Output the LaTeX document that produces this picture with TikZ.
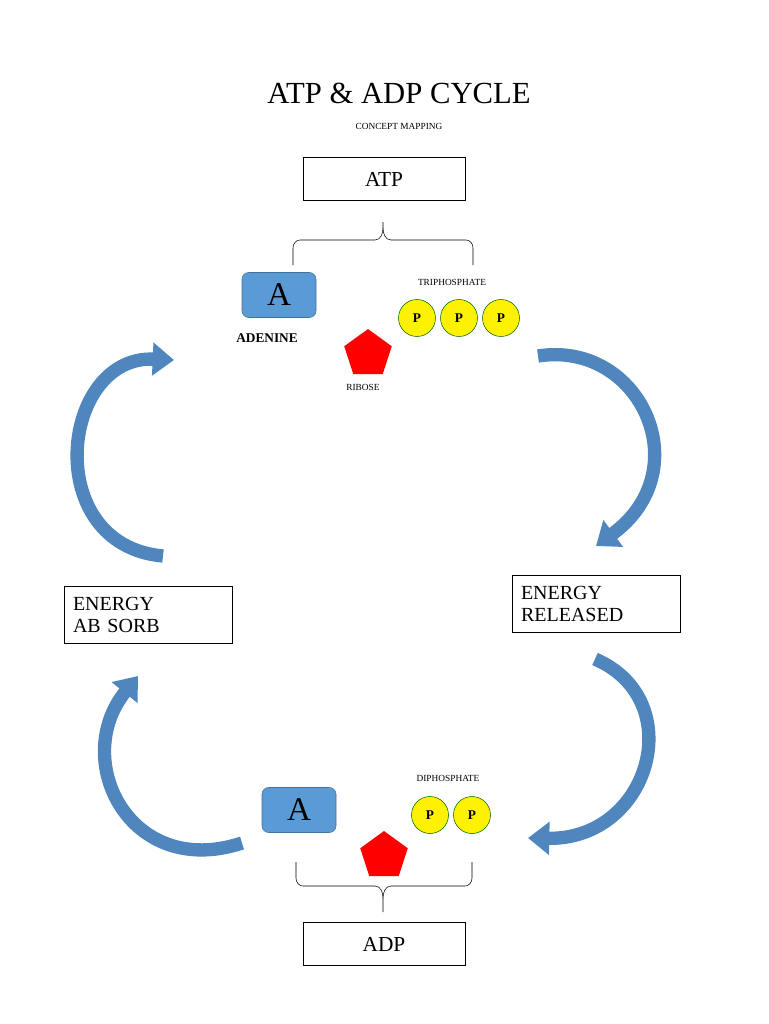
\documentclass[tikz,border=0pt]{standalone}
\usepackage{fontspec}
\setmainfont{Liberation Serif}
\usetikzlibrary{shapes.geometric,arrows.meta}
\definecolor{ablue}{HTML}{5B9BD5}
\definecolor{adark}{HTML}{41719C}
\definecolor{amid}{HTML}{4F86BE}
\begin{document}
\begin{tikzpicture}[x=0.75pt,y=-0.75pt,
 box/.style={draw,thin,minimum width=162*0.75pt,minimum height=43*0.75pt},
 ebox/.style={draw,thin,minimum width=168*0.75pt,minimum height=57*0.75pt,align=left,font=\fontsize{15}{17}\selectfont,text width=150*0.75pt},
 abox/.style={draw=adark,fill=ablue,rounded corners=5pt,minimum width=74*0.75pt,minimum height=45*0.75pt,font=\Huge},
 pc/.style={circle,draw=black!60!green,fill=yellow,minimum size=37*0.75pt,inner sep=0pt,font=\bfseries},
 pent/.style={regular polygon,regular polygon sides=5,fill=red,minimum size=50*0.75pt,inner sep=0pt},
 carrow/.style={draw=amid,line width=10pt,-{Triangle[length=16pt,width=24pt]}},
 small/.style={font=\scriptsize}]
\useasboundingbox (0,0) rectangle (768,1024);
\node (title) at (399,93) {\fontsize{23}{27}\selectfont ATP \& ADP CYCLE};
\node[small] (cm) at (399,126) {CONCEPT MAPPING};
\node[box,font=\fontsize{16}{18}\selectfont] (atp) at (384,179) {ATP};
\node[box,font=\fontsize{16}{18}\selectfont] (adp) at (384,944) {ADP};
\node[ebox] (abs) at (148,615) {ENERGY\\ AB SORB};
\node[ebox] (rel) at (596,604) {ENERGY\\ RELEASED};
\node[abox] (a1) at (279,295) {A};
\node[abox] (a2) at (299,810) {A};
\node[font=\bfseries] (aden) at (267,338) {ADENINE};
\node[small] (tri) at (452,282) {TRIPHOSPHATE};
\node[pc] (p1) at (417,318) {P};
\node[pc] (p2) at (459,318) {P};
\node[pc] (p3) at (501,318) {P};
\node[small] (di) at (448,778) {DIPHOSPHATE};
\node[pc] (p4) at (430,815) {P};
\node[pc] (p5) at (472,815) {P};
\node[pent] (r1) at (368,354) {};
\node[small] (rib) at (363,387) {RIBOSE};
\node[pent] (r2) at (384,856) {};
% braces
\draw[thin] (293,265) -- (293,248) to[out=90,in=180] (300,240) -- (375,240) to[out=0,in=-90] (383,228) -- (383,222);
\draw[thin] (473,265) -- (473,248) to[out=90,in=0] (466,240) -- (391,240) to[out=180,in=-90] (383,228);
\draw[thin] (296,862) -- (296,878) to[out=-90,in=180] (303,886) -- (375,886) to[out=0,in=90] (383,898) -- (383,912);
\draw[thin] (472,862) -- (472,878) to[out=-90,in=0] (465,886) -- (391,886) to[out=180,in=90] (383,898);
% curved arrows
\coordinate (s1) at (163,556); \coordinate (e1) at (174,360);
\draw[carrow] (s1) .. controls (40,545) and (60,355) .. (e1);
\coordinate (s2) at (538,356); \coordinate (e2) at (596,546);
\draw[carrow] (s2) .. controls (640,340) and (700,470) .. (e2);
\coordinate (s3) at (595,659); \coordinate (e3) at (528,838);
\draw[carrow] (s3) .. controls (690,700) and (650,840) .. (e3);
\coordinate (s4) at (242,843); \coordinate (e4) at (138,676);
\draw[carrow] (s4) .. controls (130,880) and (70,760) .. (e4);
\end{tikzpicture}
\end{document}
